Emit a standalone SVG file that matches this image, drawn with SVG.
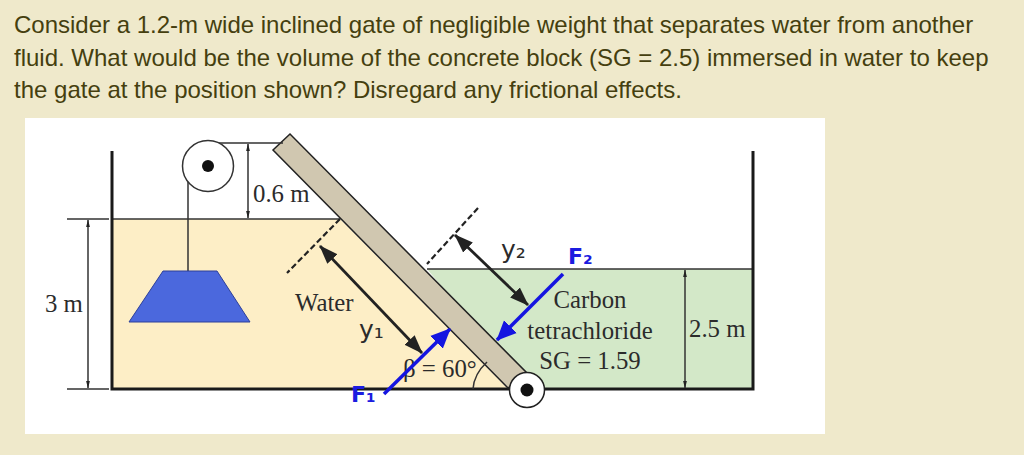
<svg xmlns="http://www.w3.org/2000/svg" width="1024" height="455" viewBox="0 0 1024 455">
<style>
.q{font-family:"Liberation Sans",Arial,sans-serif;font-size:24px;fill:#453f0f}
.t{font-family:"Liberation Serif","Times New Roman",serif;font-size:24.8px;fill:#2b2b2b}
.b{font-family:"DejaVu Sans",sans-serif;font-weight:700;fill:#1c1ce0;font-size:22px}
.y{font-family:"DejaVu Sans",sans-serif;fill:#2b2b2b;font-size:25px}
.l{stroke:#333;stroke-width:1.5;fill:none}
.w{stroke:#1a1a1a;stroke-width:3;fill:none}
.d{stroke:#222;stroke-width:2.200;fill:none;stroke-dasharray:6 3}
</style>
<defs>
<marker id="a" markerWidth="8" markerHeight="14" refX="13" refY="4" orient="auto-start-reverse" markerUnits="userSpaceOnUse" viewBox="0 0 14 8"><path d="M0 0.500L14 4L0 7.500z" fill="#222"/></marker>
<marker id="k" markerWidth="19" markerHeight="16" refX="18" refY="8" orient="auto-start-reverse" markerUnits="userSpaceOnUse" viewBox="0 0 19 16"><path d="M0 1L19 8L0 15z" fill="#222"/></marker>
<marker id="f" markerWidth="20" markerHeight="20" refX="19" refY="10" orient="auto" markerUnits="userSpaceOnUse" viewBox="0 0 20 20"><path d="M0 1L20 10L0 19z" fill="#1515e0"/></marker>
</defs>
<rect width="1024" height="455" fill="#efe9cb"/>
<text class="q" x="14" y="33">Consider a 1.2-m wide inclined gate of negligible weight that separates water from another</text>
<text class="q" x="14" y="65.500">fluid. What would be the volume of the concrete block (SG = 2.5) immersed in water to keep</text>
<text class="q" x="14" y="98">the gate at the position shown? Disregard any frictional effects.</text>
<rect x="25" y="118" width="800" height="316" fill="#fff"/>
<g id="water"><path d="M112 219H340L508 389H112z" fill="#fdeec6"/><path class="l" d="M112 219H340"/></g>
<g id="fluid"><path d="M427 269H752V389H527z" fill="#d3e8c8"/><path class="l" d="M427 269H752"/></g>
<g id="tank"><path class="w" d="M112 151V389H753V151"/></g>
<g id="gate"><path d="M290 134L273 150L508 388L527 373z" fill="#d0c7b0" stroke="#222" stroke-width="1.500"/></g>
<g id="pulley"><path class="l" d="M208 143H283M188 166V271"/><circle cx="208" cy="166" r="25.500" fill="#fff" stroke="#333" stroke-width="1.500"/><circle cx="208" cy="166" r="6" fill="#111"/></g>
<g id="block"><path d="M163 271H217L250 322H129z" fill="#4b68dd" stroke="#2c3f9a" stroke-width="1"/></g>
<g id="hinge"><circle cx="527" cy="390" r="17.500" fill="#fff" stroke="#222" stroke-width="1.500"/><circle cx="527" cy="390" r="6.500" fill="#111"/></g>
<text id="angle" class="t" x="403" y="377">β = 60°</text>
<g id="connectors">
<path class="l" d="M67 219H109M67 389H109"/>
<path class="l" marker-start="url(#a)" marker-end="url(#a)" d="M88 220V388"/>
<path class="l" marker-start="url(#a)" marker-end="url(#a)" d="M248 144V218"/>
<path class="l" marker-start="url(#a)" marker-end="url(#a)" d="M685 270V388"/>
<path class="d" d="M340 219L287 273"/>
<path class="d" d="M478 208L427 264"/>
<path stroke="#222" stroke-width="2.800" fill="none" marker-start="url(#k)" marker-end="url(#k)" d="M320 246L422 353"/>
<path stroke="#222" stroke-width="2.800" fill="none" marker-start="url(#k)" marker-end="url(#k)" d="M455 235L528 305"/>
<path stroke="#1515e0" stroke-width="3.500" fill="none" marker-end="url(#f)" d="M384 394L450 329"/>
<path stroke="#1515e0" stroke-width="3.500" fill="none" marker-end="url(#f)" d="M563 274L497 340"/>
<path class="l" d="M473 389Q474 374 487 362"/>
</g>
<g id="labels">
<text class="t" x="45" y="312">3 m</text>
<text class="t" x="253" y="202">0.6 m</text>
<text class="t" x="295" y="311">Water</text>
<text class="t" x="590" y="308" text-anchor="middle">Carbon</text>
<text class="t" x="590" y="339" text-anchor="middle">tetrachloride</text>
<text class="t" x="590" y="369" text-anchor="middle">SG = 1.59</text>
<text class="t" x="689" y="337">2.5 m</text>
<text class="y" x="359" y="338">y₁</text>
<text class="y" x="501" y="258">y₂</text>
<text class="b" x="351" y="402">F₁</text>
<text class="b" x="568" y="264">F₂</text>
</g>
</svg>
